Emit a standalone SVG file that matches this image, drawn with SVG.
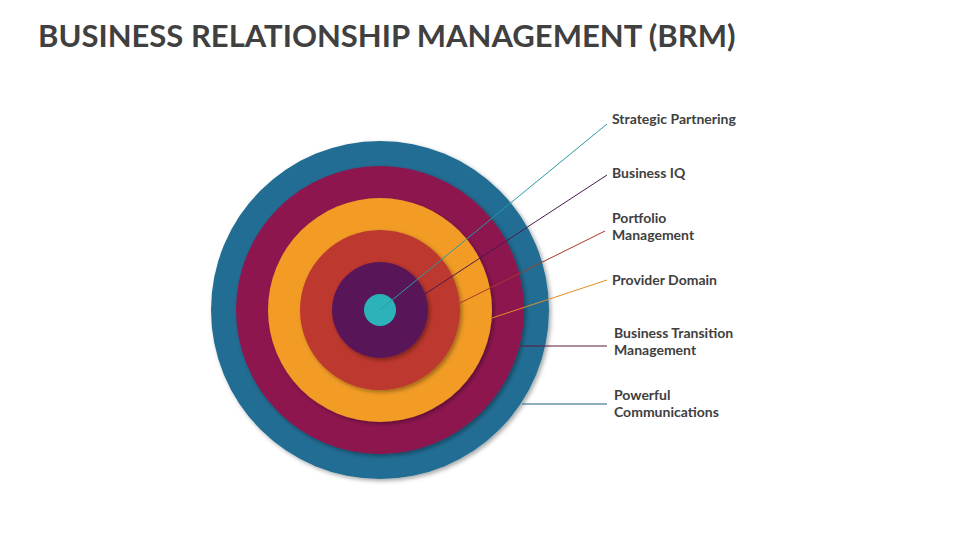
<svg xmlns="http://www.w3.org/2000/svg" width="960" height="540" viewBox="0 0 960 540">
<defs><filter id="sh" x="-20%" y="-20%" width="140%" height="140%"><feDropShadow dx="2" dy="2" stdDeviation="2" flood-opacity="0.35"/></filter></defs>
<style>
text{font-family:Lato,"Open Sans","Liberation Sans",sans-serif;font-weight:bold;fill:#404040}
.l{font-size:14px}
.c line{stroke-width:1}
</style>
<rect width="960" height="540" fill="#fff"/>
<text x="38" y="47" style="font-size:31px">BUSINESS RELATIONSHIP MANAGEMENT (BRM)</text>
<g id="ring-blue"><circle cx="380" cy="310" r="169" fill="#236d93" filter="url(#sh)"/></g>
<g id="ring-magenta"><circle cx="380" cy="310" r="144" fill="#8e1550" filter="url(#sh)"/></g>
<g id="ring-orange"><circle cx="380" cy="310" r="112" fill="#f29c27" filter="url(#sh)"/></g>
<g id="ring-red"><circle cx="380" cy="310" r="80" fill="#bd372e" filter="url(#sh)"/></g>
<g id="ring-purple"><circle cx="380" cy="310" r="48" fill="#591759" filter="url(#sh)"/></g>
<g id="core"><circle cx="380" cy="310" r="16" fill="#2bb3b9"/></g>
<g class="c" id="connectors">
<line x1="380" y1="310" x2="607" y2="124" stroke="#2b9aa2"/>
<line x1="425" y1="294" x2="607" y2="175" stroke="#4a1a4e"/>
<line x1="460" y1="303" x2="605" y2="231" stroke="#a33a2a"/>
<line x1="492" y1="318" x2="607" y2="280" stroke="#e08f22"/>
<line x1="520" y1="346" x2="607" y2="346" stroke="#5a1a3a"/>
<line x1="522" y1="404" x2="607" y2="404" stroke="#1f5f80"/>
</g>
<g id="labels" class="l">
<text x="612" y="124">Strategic Partnering</text>
<text x="612" y="178">Business IQ</text>
<text x="612" y="223">Portfolio</text>
<text x="612" y="240">Management</text>
<text x="612" y="285">Provider Domain</text>
<text x="614" y="338">Business Transition</text>
<text x="614" y="355">Management</text>
<text x="614" y="400">Powerful</text>
<text x="614" y="417">Communications</text>
</g>
</svg>
